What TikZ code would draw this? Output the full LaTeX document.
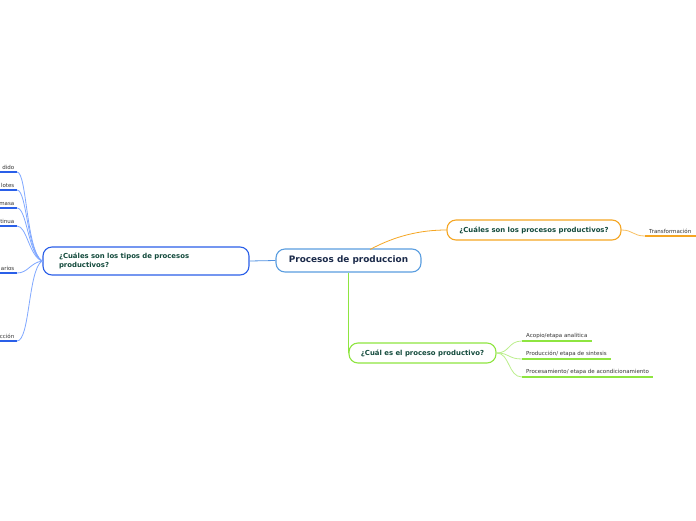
\documentclass[tikz,border=0pt]{standalone}
\usepackage{fontspec}
\setmainfont{DejaVu Sans}
\definecolor{cblue}{HTML}{5A9EE0}
\definecolor{lblue}{HTML}{2A5FE8}
\definecolor{lbluec}{HTML}{80A8FF}
\definecolor{corange}{HTML}{F5A623}
\definecolor{cgreen}{HTML}{8EE540}
\definecolor{tgreen}{HTML}{134A3C}
\definecolor{tnavy}{HTML}{1B2A4A}
\definecolor{tgray}{HTML}{333333}
\begin{document}
\begin{tikzpicture}[x=1pt,y=-1pt,
  mainbox/.style={draw, rounded corners=9pt, line width=1.1pt, fill=white, inner sep=0pt,
     font=\fontsize{6.9}{8.4}\selectfont\bfseries, text=tgreen},
  leaf/.style={font=\fontsize{5.5}{6.5}\selectfont, text=tgray, inner xsep=4pt, inner ysep=2pt},
  conn/.style={line width=0.8pt},
  uline/.style={line width=1.3pt}]
\useasboundingbox (0,0) rectangle (696,520);
\fill[white] (0,0) rectangle (696,520);

% central
\node[mainbox, draw=cblue, minimum width=145pt, minimum height=23pt,
  font=\fontsize{8.9}{10}\selectfont\bfseries, text=tnavy] (central) at (348.5,260.5) {Procesos de produccion};

% left main
\node[mainbox, draw=lblue, minimum width=206pt, minimum height=28pt, text width=174pt,
  align=left, inner xsep=16pt] (tipos) at (146,261) {¿Cuáles son los tipos de procesos\\productivos?};

% orange main
\node[mainbox, draw=corange, minimum width=174pt, minimum height=20pt] (procs) at (534,230) {¿Cuáles son los procesos productivos?};

% green main
\node[mainbox, draw=cgreen, minimum width=147pt, minimum height=20pt] (cual) at (422.5,353) {¿Cuál es el proceso productivo?};

% central connectors
\draw[conn, draw=cblue!80!lblue] (central.west) -- (tipos.east);
\coordinate (ctop) at (370,249.5);
\draw[conn, draw=corange] (ctop) .. controls (395,236) and (420,230) .. (procs.west);
\draw[conn, draw=cgreen] (central.south) -- (central.south |- cual.west);

% orange child
\node[leaf, anchor=south west] (transf) at (645,236) {Transformación};
\draw[conn, draw=corange!70] (procs.east) .. controls (633,230) and (633,236) .. (transf.south west);
\coordinate (tend) at (700,236);
\draw[uline, draw=corange] (transf.south west) -- (tend);

% green children
\node[leaf, anchor=south west] (g1) at (522,341) {Acopio/etapa analitica};
\node[leaf, anchor=south west] (g2) at (522,359) {Producción/ etapa de sintesis};
\node[leaf, anchor=south west] (g3) at (522,377) {Procesamiento/ etapa de acondicionamiento};
\foreach \n in {g1,g2,g3}{
  \draw[conn, draw=cgreen!60] (cual.east) .. controls (510,353) and (508,353 |- \n.south west) .. (\n.south west);
  \draw[line width=1.2pt, draw=cgreen] (\n.south west) -- (\n.south east);
}

% left children
\coordinate (junc) at (42,261);
\tikzset{lleaf/.style={leaf, anchor=south east, inner xsep=2.5pt}}
\node[lleaf] (b1) at (17,172) {dido};
\node[lleaf] (b2) at (17,190) {lotes};
\node[lleaf] (b3) at (17,208) {masa};
\node[lleaf] (b4) at (17,226) {tinua};
\node[lleaf] (b5) at (17,273) {arios};
\node[lleaf] (b6) at (17,341) {cción};
\coordinate (z1) at (-5,172);\coordinate (z2) at (-5,190);\coordinate (z3) at (-5,208);
\coordinate (z4) at (-5,226);\coordinate (z5) at (-5,273);\coordinate (z6) at (-5,341);
\foreach \n/\z in {b1/z1,b2/z2,b3/z3,b4/z4,b5/z5,b6/z6}{
  \draw[uline, draw=lblue] (\z) -- (\n.south east);
}
\draw[conn, draw=lbluec] (b1.south east) .. controls (27,172) and (26,250) .. (junc);
\draw[conn, draw=lbluec] (b2.south east) .. controls (27,190) and (27,252) .. (junc);
\draw[conn, draw=lbluec] (b3.south east) .. controls (27,208) and (28,254) .. (junc);
\draw[conn, draw=lbluec] (b4.south east) .. controls (27,226) and (29,256) .. (junc);
\draw[conn, draw=lbluec] (b5.south east) .. controls (28,273) and (30,263) .. (junc);
\draw[conn, draw=lbluec] (b6.south east) .. controls (30,341) and (28,270) .. (junc);
\draw[conn, draw=lbluec] (junc) -- (tipos.west);
\end{tikzpicture}
\end{document}
